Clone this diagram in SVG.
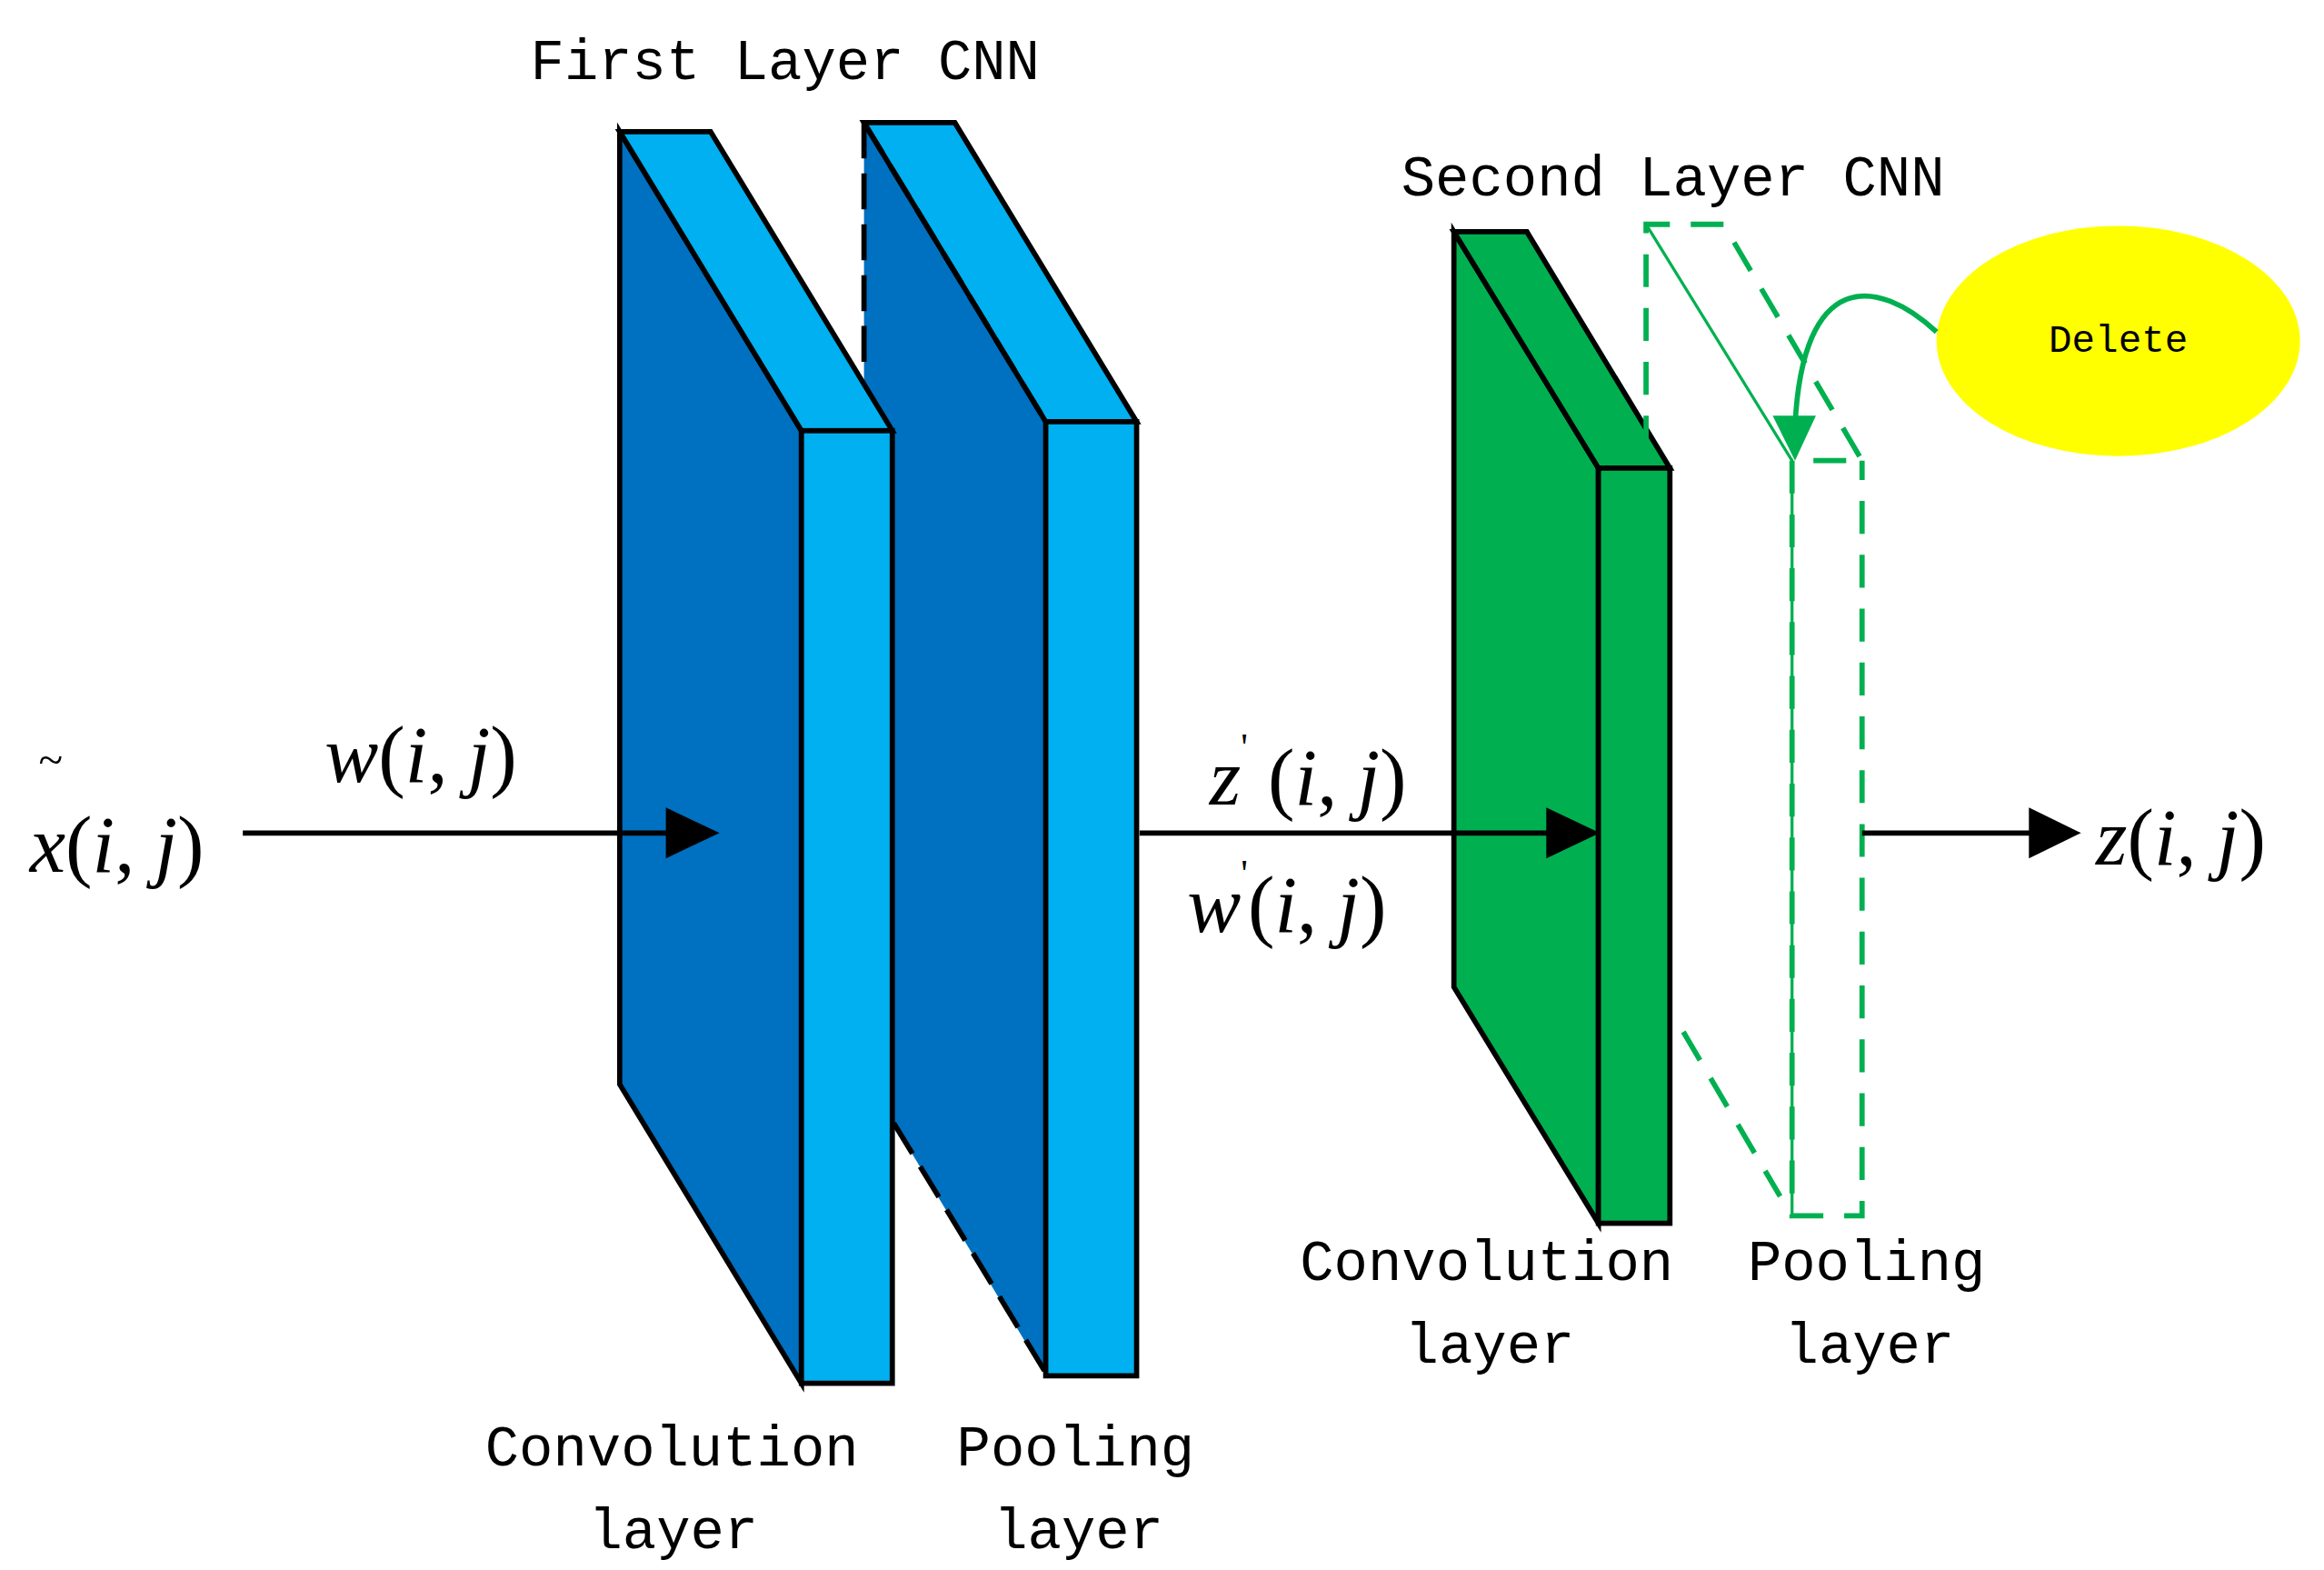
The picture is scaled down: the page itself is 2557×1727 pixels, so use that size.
<svg xmlns="http://www.w3.org/2000/svg" width="2557" height="1727" viewBox="0 0 2557 1727">
<style>
.k{stroke:#000;stroke-width:3.5;stroke-linejoin:miter}
.dk{fill:#0070C0}.lt{fill:#00B0F0}.gr{fill:#00B050}
.lbl{font-family:"Liberation Mono",monospace;font-size:38px;fill:#000;text-anchor:middle}
.m{font-family:"Liberation Serif",serif;font-size:54px;fill:#000}
.gd{fill:none;stroke:#00B050;stroke-width:3.5;stroke-dasharray:22 14}
</style>
<defs><marker id="ah" markerWidth="10" markerHeight="10" refX="10" refY="5" orient="auto" markerUnits="userSpaceOnUse" viewBox="0 0 10 10"><path d="M0,0L10,5L0,10z" fill="#000"/></marker></defs>
<rect width="2557" height="1727" fill="#fff"/>
<g transform="scale(1.639,1.645)">
<g id="pool1">
<polygon class="dk" points="580,82 702,282 702,920 580,718"/>
<polygon class="lt k" points="580,82 641,82 763,282 702,282"/>
<rect class="lt k" x="702" y="282" width="61" height="638"/>
<path d="M580,82V250M580,82L702,282M600,751L702,918" stroke="#000" stroke-width="3.5" stroke-dasharray="24 10" fill="none"/>
</g>
<g id="conv1">
<polygon class="dk k" points="416,88 538,288 538,925 416,725"/>
<polygon class="lt k" points="416,88 477,88 599,288 538,288"/>
<rect class="lt k" x="538" y="288" width="61" height="637"/>
</g>
<g id="conv2">
<polygon class="gr k" points="976,155 1073,313 1073,818 976,660"/>
<polygon class="gr k" points="976,155 1025,155 1121,313 1073,313"/>
<rect class="gr k" x="1073" y="313" width="48" height="505"/>
</g>
<g id="pool2">
<path class="gd" d="M1105,300V150H1157L1250,308H1203M1203,308V813H1250V308M1130,690L1195,800"/>
<path d="M1105,150L1203,308V813" fill="none" stroke="#00B050" stroke-width="2"/>
</g>
<g id="delete">
<ellipse cx="1422" cy="228" rx="122" ry="77" fill="#FFFF00"/>
<text x="1422" y="235" class="lbl" style="font-size:26px">Delete</text>
</g>
<g id="connectors">
<path d="M1300,222C1260,185 1210,180 1205,285" fill="none" stroke="#00B050" stroke-width="3.5"/>
<polygon points="1190,278 1219,278 1205,308" fill="#00B050"/>
<g stroke="#000" stroke-width="3.5">
<line x1="163" y1="557" x2="450" y2="557"/>
<line x1="765" y1="557" x2="1042" y2="557"/>
<line x1="1250" y1="557" x2="1365" y2="557"/>
</g>
<polygon points="447,540 483,557 447,574"/>
<polygon points="1038,540 1074,557 1038,574"/>
<polygon points="1362,540 1397,557 1362,574"/>
</g>
<g id="labels">
<text class="lbl" x="527" y="53">First Layer CNN</text>
<text class="lbl" x="1123" y="131">Second Layer CNN</text>
<text class="lbl" x="451" y="980">Convolution</text>
<text class="lbl" x="452" y="1035">layer</text>
<text class="lbl" x="722" y="980">Pooling</text>
<text class="lbl" x="724" y="1035">layer</text>
<text class="lbl" x="998" y="856">Convolution</text>
<text class="lbl" x="1000" y="911">layer</text>
<text class="lbl" x="1253" y="856">Pooling</text>
<text class="lbl" x="1255" y="911">layer</text>
<text class="m" x="26" y="518" style="font-size:30px">~</text>
<text class="m" x="20" y="583"><tspan font-style="italic">x</tspan>(<tspan font-style="italic">i</tspan>, <tspan font-style="italic">j</tspan>)</text>
<text class="m" x="218" y="523"><tspan font-style="italic">w</tspan>(<tspan font-style="italic">i</tspan>, <tspan font-style="italic">j</tspan>)</text>
<text class="m" x="812" y="538"><tspan font-style="italic">z</tspan><tspan dy="-30" style="font-size:26px">'</tspan><tspan dy="30"> (</tspan><tspan font-style="italic">i</tspan>, <tspan font-style="italic">j</tspan>)</text>
<text class="m" x="797" y="623"><tspan font-style="italic">w</tspan><tspan dy="-30" style="font-size:26px">'</tspan><tspan dy="30">(</tspan><tspan font-style="italic">i</tspan>, <tspan font-style="italic">j</tspan>)</text>
<text class="m" x="1407" y="578"><tspan font-style="italic">z</tspan>(<tspan font-style="italic">i</tspan>, <tspan font-style="italic">j</tspan>)</text>
</g>
</g>
</svg>
